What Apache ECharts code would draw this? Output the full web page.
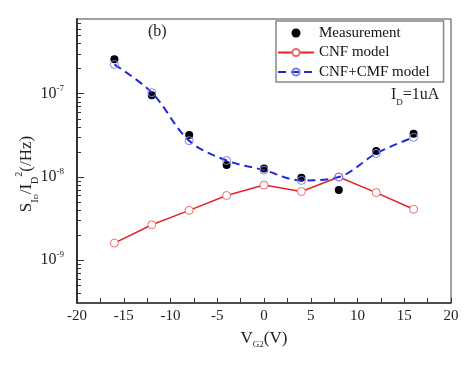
<!DOCTYPE html>
<html>
<head>
<meta charset="utf-8">
<script src="https://cdn.jsdelivr.net/npm/echarts@6/dist/echarts.min.js"></script>
<style>html,body{margin:0;padding:0;background:#fff;}#c{width:474px;height:369px;}</style>
</head>
<body>
<div id="c"></div>
<script>
// ---- data ----
var vg2 = [-16, -12, -8, -4, 0, 4, 8, 12, 16];
var measurement = [2.59e-7, 9.6e-8, 3.2e-8, 1.39e-8, 1.27e-8, 9.8e-9, 7.0e-9, 2.05e-8, 3.3e-8];
var cnfModel = [1.61e-9, 2.67e-9, 3.98e-9, 6.0e-9, 8.0e-9, 6.7e-9, 1.0e-8, 6.5e-9, 4.1e-9];
var cnfCmfModel = [2.25e-7, 1.03e-7, 2.73e-8, 1.58e-8, 1.21e-8, 9.1e-9, 1.0e-8, 1.92e-8, 3.0e-8];
var seriesNames = ['Measurement', 'CNF model', 'CNF+CMF model'];
var yMajorTicks = [1e-9, 1e-8, 1e-7];
var yMin = 3.07e-10, yMax = 7.9e-7;
var yMinorTicks = [];
[-10, -9, -8, -7].forEach(function (e) {
  for (var m = 2; m <= 9; m++) {
    var v = m * Math.pow(10, e);
    if (v > yMin && v < yMax) yMinorTicks.push(v);
  }
});

function pairs(ys) { return vg2.map(function (x, i) { return [x, ys[i]]; }); }

var serif = 'Liberation Serif';
var chart = echarts.init(document.getElementById('c'));
chart.setOption({
  animation: false,
  backgroundColor: '#fff',
  grid: { left: 77, right: 23, top: 19, bottom: 66, containLabel: false, outerBoundsMode: 'none', show: true, borderColor: '#444', borderWidth: 1, backgroundColor: 'transparent' },
  legend: {
    left: 276, top: 21, orient: 'vertical',
    data: seriesNames,
    itemWidth: 36, itemHeight: 9, itemGap: 3.5,
    padding: [4, 14, 2, 1],
    borderColor: '#888', borderWidth: 1.5,
    textStyle: { fontFamily: serif, fontSize: 15, color: '#111', lineHeight: 16 }
  },
  xAxis: {
    type: 'value', min: -20, max: 20, interval: 5,
    axisLine: { onZero: false, lineStyle: { color: '#333', width: 1.5 } },
    axisTick: { inside: true, length: 5, lineStyle: { color: '#333' } },
    minorTick: { show: true, splitNumber: 2, length: 5, lineStyle: { color: '#333' } },
    splitLine: { show: false },
    axisLabel: { fontFamily: serif, fontSize: 15, color: '#222', margin: 6 },
    name: '{a|V}{s|G2}{a|(V)}',
    nameLocation: 'middle', nameGap: 26, nameMoveOverlap: false,
    nameTextStyle: {
      rich: {
        a: { fontFamily: serif, fontSize: 17, color: '#222', lineHeight: 20 },
        s: { fontFamily: serif, fontSize: 9, color: '#222', lineHeight: 6, verticalAlign: 'bottom' }
      }
    }
  },
  yAxis: [{
    type: 'log', min: yMin, max: yMax, logBase: 10,
    axisLine: { show: true, onZero: false, lineStyle: { color: '#333', width: 2 } },
    axisTick: { inside: true, length: 7, customValues: yMajorTicks, lineStyle: { color: '#333' } },
    splitLine: { show: false },
    axisLabel: {
      customValues: yMajorTicks,
      margin: 13,
      formatter: function (v) {
        var e = Math.log10(v);
        if (Math.abs(e - Math.round(e)) > 1e-6) return '';
        return '{b|10}{p|' + Math.round(e) + '}';
      },
      rich: {
        b: { fontFamily: serif, fontSize: 16, color: '#222', lineHeight: 20 },
        p: { fontFamily: serif, fontSize: 9, color: '#222', lineHeight: 9, verticalAlign: 'top' }
      }
    },
    name: '{a|S}{s|I}{ss|D}{a|/I}{s|D}{p|2}{a|(/Hz)}',
    nameLocation: 'middle', nameRotate: 90, nameGap: 37, nameMoveOverlap: false,
    nameTextStyle: {
      padding: [0, 26, 0, 0],
      rich: {
        a: { fontFamily: serif, fontSize: 17, color: '#222', lineHeight: 26 },
        s: { fontFamily: serif, fontSize: 10, color: '#222', lineHeight: 14, verticalAlign: 'bottom' },
        ss: { fontFamily: serif, fontSize: 7, color: '#222', lineHeight: 6, verticalAlign: 'bottom' },
        p: { fontFamily: serif, fontSize: 10, color: '#222', lineHeight: 16, verticalAlign: 'top' }
      }
    }
  }, {
    type: 'log', min: yMin, max: yMax, logBase: 10, position: 'left',
    axisLine: { show: false, onZero: false },
    axisTick: { show: true, inside: true, length: 4, customValues: yMinorTicks, lineStyle: { color: '#333' } },
    axisLabel: { show: false },
    splitLine: { show: false }
  }],
  graphic: [
    { type: 'text', left: 148, top: 24, style: { text: '(b)', font: '16px "Liberation Serif"', fill: '#222' } },
    { type: 'text', left: 391, top: 87, style: {
      text: '{a|I}{s|D}{a|=1uA}',
      rich: {
        a: { fontFamily: serif, fontSize: 16, fill: '#222', lineHeight: 24 },
        s: { fontFamily: serif, fontSize: 9, fill: '#222', lineHeight: 8, verticalAlign: 'bottom' }
      }
    } }
  ],
  series: [{
    name: seriesNames[0], type: 'scatter', data: pairs(measurement),
    symbol: 'circle', symbolSize: 8, itemStyle: { color: '#000', opacity: 1 }, z: 2
  }, {
    name: seriesNames[1], type: 'line', data: pairs(cnfModel),
    symbol: 'circle', symbolSize: 8,
    lineStyle: { color: '#e52228', width: 1.5 },
    itemStyle: { color: '#fff', borderColor: '#ec6a6e', borderWidth: 1 }, z: 3
  }, {
    name: seriesNames[2], type: 'line', data: pairs(cnfCmfModel),
    symbol: 'circle', symbolSize: 8, smooth: 0.35,
    lineStyle: { color: '#1f2ad6', width: 2, type: [8, 5] },
    itemStyle: { color: 'rgba(255,255,255,0)', borderColor: '#7f7fe6', borderWidth: 1 }, z: 4
  }]
});
</script>
</body>
</html>
